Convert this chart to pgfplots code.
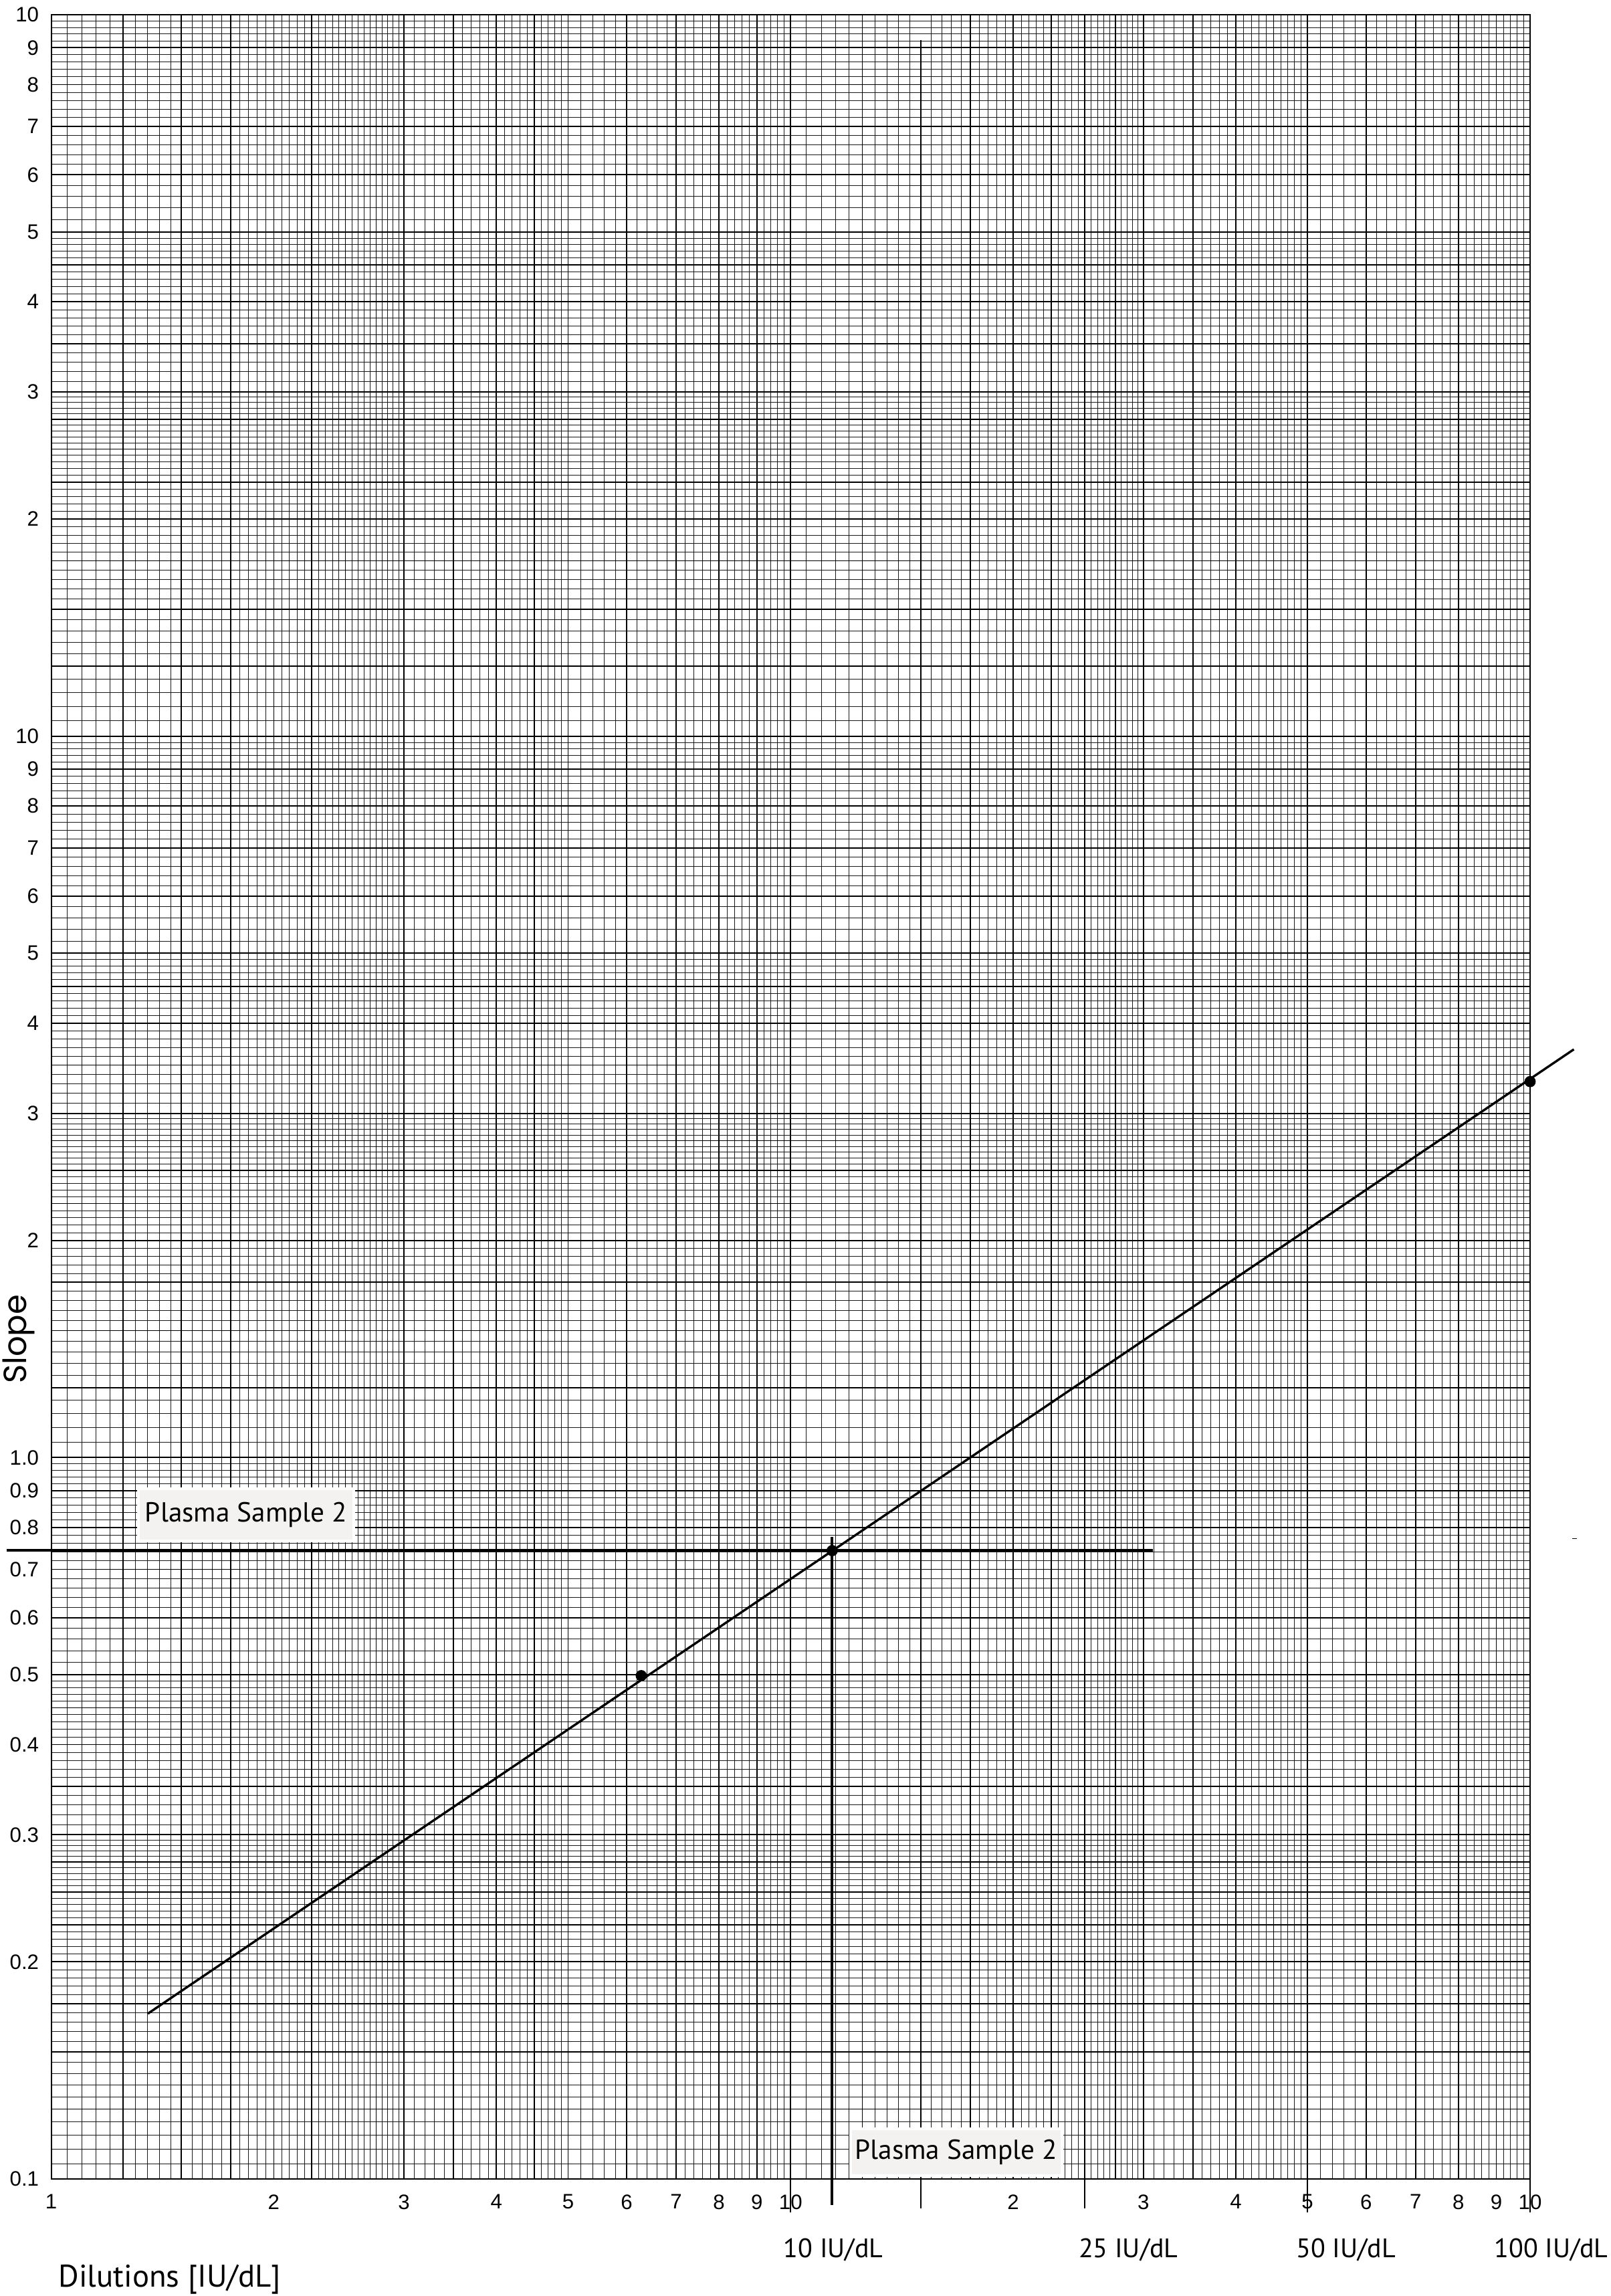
\documentclass[border=0pt]{standalone}
\usepackage{fontspec}
\setmainfont{Liberation Sans}
\newfontfamily\myriad{PT Sans}
\newfontfamily\geo{Poppins}
\usepackage{pgfplots}
\pgfplotsset{compat=1.18}
\definecolor{boxgray}{HTML}{F4F2F1}

\begin{document}
\begin{tikzpicture}
\begin{axis}[
   xmode=log, ymode=log,
   scale only axis,
   width=552.85pt, height=809pt,
   xmin=1, xmax=100, ymin=0.1, ymax=100,
   clip=false,
   axis line style={black, line width=0.5pt},
   major tick length=0pt, minor tick length=0pt,
   grid=both,
   major grid style={black, line width=0.45pt},
   minor grid style={black!90, line width=0.24pt},
   xtick={1,2,3,4,5,6,7,8,9,10,20,30,40,50,60,70,80,90,100},
   xticklabels={1,2,3,4,5,6,7,8,9,10,2,3,4,5,6,7,8,9,10},
   ytick={0.1,0.2,0.3,0.4,0.5,0.6,0.7,0.8,0.9,1,2,3,4,5,6,7,8,9,10,20,30,40,50,60,70,80,90,100},
   yticklabels={0.1,0.2,0.3,0.4,0.5,0.6,0.7,0.8,0.9,1.0,2,3,4,5,6,7,8,9,10,2,3,4,5,6,7,8,9,10},
   % fine lines of the log paper
   minor xtick={1.05,1.1,1.15,1.2,1.3,1.35,1.4,1.45,1.55,1.6,1.65,1.7,1.8,1.85,1.9,1.95,
      2.05,2.1,2.15,2.2,2.3,2.35,2.4,2.45,2.55,2.6,2.65,2.7,2.8,2.85,2.9,2.95,
      3.1,3.2,3.3,3.4,3.6,3.7,3.8,3.9,4.1,4.2,4.3,4.4,4.6,4.7,4.8,4.9,
      5.2,5.4,5.6,5.8,6.2,6.4,6.6,6.8,7.2,7.4,7.6,7.8,8.2,8.4,8.6,8.8,9.2,9.4,9.6,9.8,
      10.5,11,11.5,12,13,13.5,14,14.5,15.5,16,16.5,17,18,18.5,19,19.5,
      20.5,21,21.5,22,23,23.5,24,24.5,25.5,26,26.5,27,28,28.5,29,29.5,
      31,32,33,34,36,37,38,39,41,42,43,44,46,47,48,49,
      52,54,56,58,62,64,66,68,72,74,76,78,82,84,86,88,92,94,96,98},
   minor ytick={0.105,0.11,0.115,0.12,0.13,0.135,0.14,0.145,0.155,0.16,0.165,0.17,0.18,0.185,0.19,0.195,
      0.205,0.21,0.215,0.22,0.23,0.235,0.24,0.245,0.255,0.26,0.265,0.27,0.28,0.285,0.29,0.295,
      0.31,0.32,0.33,0.34,0.36,0.37,0.38,0.39,0.41,0.42,0.43,0.44,0.46,0.47,0.48,0.49,
      0.52,0.54,0.56,0.58,0.62,0.64,0.66,0.68,0.72,0.74,0.76,0.78,0.82,0.84,0.86,0.88,0.92,0.94,0.96,0.98,
      1.05,1.1,1.15,1.2,1.3,1.35,1.4,1.45,1.55,1.6,1.65,1.7,1.8,1.85,1.9,1.95,
      2.05,2.1,2.15,2.2,2.3,2.35,2.4,2.45,2.55,2.6,2.65,2.7,2.8,2.85,2.9,2.95,
      3.1,3.2,3.3,3.4,3.6,3.7,3.8,3.9,4.1,4.2,4.3,4.4,4.6,4.7,4.8,4.9,
      5.2,5.4,5.6,5.8,6.2,6.4,6.6,6.8,7.2,7.4,7.6,7.8,8.2,8.4,8.6,8.8,9.2,9.4,9.6,9.8,
      10.5,11,11.5,12,13,13.5,14,14.5,15.5,16,16.5,17,18,18.5,19,19.5,
      20.5,21,21.5,22,23,23.5,24,24.5,25.5,26,26.5,27,28,28.5,29,29.5,
      31,32,33,34,36,37,38,39,41,42,43,44,46,47,48,49,
      52,54,56,58,62,64,66,68,72,74,76,78,82,84,86,88,92,94,96,98},
   % medium lines
   extra x ticks={1.25,1.5,1.75,2.25,2.5,2.75,3.5,4.5,12.5,17.5,22.5,25,27.5,35,45},
   extra y ticks={0.125,0.15,0.175,0.225,0.25,0.275,0.35,0.45,1.25,1.5,1.75,2.25,2.5,2.75,3.5,4.5,12.5,15,17.5,22.5,25,27.5,35,45},
   extra tick style={grid=major, major grid style={black, line width=0.42pt},
      xticklabel={}, yticklabel={}},
   tick label style={font=\fontsize{7.8}{9}\selectfont},
   xticklabel style={yshift=-2.3pt},
   yticklabel style={xshift=-1.1pt},
]
\coordinate (sw) at (rel axis cs:0,0);

% fitted line and dilution points
\addplot[black, line width=0.85pt] coordinates {(1.351,0.1695) (114.6,3.68)};
\addplot[only marks, mark=*, mark size=1.9pt, black] coordinates {(6.28,0.4985) (11.38,0.743) (100,3.32)};

% plasma sample 2 read-off
\addplot[black, line width=1.05pt] coordinates {(0.8705,0.7434) (30.9,0.7434)};
\addplot[black, line width=1.05pt] coordinates {(11.38,0.777) (11.38,0.092)};

% long marks below the axis
\addplot[black, line width=0.5pt] coordinates {(10,0.1) (10,0.0899)};
\addplot[black, line width=0.5pt] coordinates {(25,0.1) (25,0.091)};
\addplot[black, line width=0.5pt] coordinates {(50,0.1) (50,0.0899)};
\addplot[black, line width=0.5pt] coordinates {(100,0.1) (100,0.0899)};
\addplot[black, line width=0.42pt] coordinates {(15,92.2) (15,0.091)};
\addplot[black, line width=0.45pt] coordinates {(114.1,0.7723) (115.6,0.7723)};

\node[fill=boxgray, draw=white, line width=1pt, inner sep=0pt,
   minimum width=80.5pt, minimum height=19.5pt,
   font=\myriad\fontsize{10.3}{12}\selectfont] at (axis cs:1.835,0.8322) {Plasma Sample 2};
\node[fill=boxgray, draw=white, line width=1pt, inner sep=0pt,
   minimum width=79pt, minimum height=17.5pt,
   font=\myriad\fontsize{10.3}{12}\selectfont] at (axis cs:16.74,0.1089) {Plasma Sample 2};

\node[anchor=base west, inner sep=0pt, font=\myriad\fontsize{10}{12}\selectfont] at (axis cs:9.77,0.0779) {10 IU/dL};
\node[anchor=base west, inner sep=0pt, font=\myriad\fontsize{10}{12}\selectfont] at (axis cs:24.48,0.0779) {25 IU/dL};
\node[anchor=base west, inner sep=0pt, font=\myriad\fontsize{10}{12}\selectfont] at (axis cs:48.2,0.0779) {50 IU/dL};
\node[anchor=base east, inner sep=0pt, font=\myriad\fontsize{10}{12}\selectfont] at (axis cs:127.7,0.0779) {100 IU/dL};

\node[anchor=base west, inner sep=0pt, font=\myriad\fontsize{11.7}{13}\selectfont] at (axis cs:1.022,0.0709) {Dilutions [IU/dL]};
\node[rotate=90, inner sep=0pt, font=\geo\fontsize{12}{14}\selectfont] at (axis cs:0.9038,1.459) {Slope};
\end{axis}
\pgfresetboundingbox
\path[use as bounding box] ([shift={(-19.15pt,-43.75pt)}]sw) rectangle ++(602pt,858.25pt);
\end{tikzpicture}
\end{document}
